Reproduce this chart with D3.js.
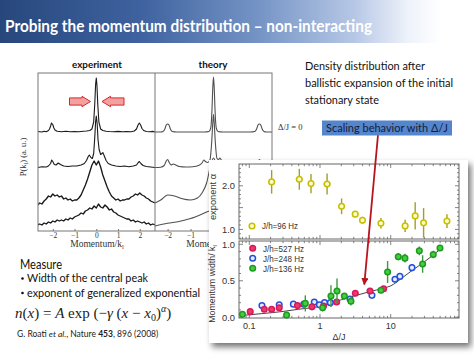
<!DOCTYPE html>
<html><head><meta charset="utf-8">
<script src="https://cdn.jsdelivr.net/npm/d3@7"></script>
<style>body{margin:0;background:#fff;} svg{display:block;}</style>
</head><body>
<svg id="c" width="474" height="355"></svg>
<script>
// ---------------- DATA ----------------
const titleText = "Probing the momentum distribution \u2013 non-interacting";
const panelLabels = ["experiment", "theory"];
const momTicks = [-2, -1, 0, 1, 2];
const descLines = ["Density distribution after", "ballistic expansion of the initial", "stationary state"];
const boxText = "Scaling behavior with \u0394/J";
const bulletLines = ["Width of the central peak", "exponent of generalized exponential"];

// curve profiles [k, P] (a.u.), and vertical offsets (a.u.) of each stacked curve
const curveOffsets = [99, 63.5, 26, 6];
const thOffsets = [99, 63.5, 28, 5];
const exp1 = [[-2.68,0.5],[-2.5,0],[-2.4,0.8],[-2.3,0.3],[-2.2,1.5],[-2.15,3],[-2.1,6],[-2.06,9],[-2.0,7.5],[-1.95,4],[-1.9,2],[-1.8,0.8],[-1.6,0.3],[-1.4,0.7],[-1.2,0.2],[-1.0,0.5],[-0.8,0.3],[-0.6,0.8],[-0.45,1],[-0.3,1.5],[-0.2,3],[-0.12,10],[-0.07,28],[-0.03,48],[0,54],[0.03,47],[0.07,27],[0.12,10],[0.2,3],[0.3,1.5],[0.45,0.8],[0.6,0.5],[0.8,0.2],[1.0,0.6],[1.2,0.2],[1.4,0.5],[1.6,0.3],[1.75,1],[1.85,3],[1.92,7],[1.98,9],[2.04,7],[2.1,3.5],[2.18,1.5],[2.3,0.5],[2.45,0.2],[2.6,0.6],[2.7,0]];
const exp2 = [[-2.68,0],[-2.5,0.8],[-2.3,0.5],[-2.2,1.5],[-2.1,4],[-2.05,7.5],[-2.0,6],[-1.93,3],[-1.85,2.5],[-1.75,4.5],[-1.65,3],[-1.5,1.5],[-1.3,1],[-1.1,1.5],[-0.9,1.5],[-0.7,2.5],[-0.55,4],[-0.45,7],[-0.37,11],[-0.32,12.5],[-0.25,10],[-0.18,9],[-0.12,14],[-0.07,30],[-0.03,46],[0,51.5],[0.04,44],[0.08,28],[0.13,18],[0.2,13],[0.26,14],[0.3,15],[0.36,12],[0.45,7],[0.55,4],[0.7,2.5],[0.9,1.5],[1.1,1],[1.3,1.5],[1.5,0.8],[1.7,1.5],[1.85,2.5],[1.93,5],[1.98,6],[2.05,4],[2.15,2],[2.3,1],[2.5,0.5],[2.7,0]];
const exp3 = [[-2.7,0],[-2.6,2],[-2.5,1],[-2.4,4],[-2.3,6],[-2.2,9],[-2.1,8],[-2.0,11],[-1.9,9],[-1.8,10],[-1.7,8],[-1.6,9],[-1.5,6],[-1.4,7],[-1.3,5],[-1.2,6],[-1.1,4],[-1.0,5],[-0.9,5],[-0.8,7],[-0.7,10],[-0.6,15],[-0.5,20],[-0.4,26],[-0.3,33],[-0.2,40],[-0.1,44],[0.0,40],[0.1,44],[0.2,38],[0.3,30],[0.4,24],[0.5,18],[0.6,13],[0.7,9],[0.8,7],[0.9,5],[1.0,6],[1.1,4],[1.2,5],[1.3,5],[1.4,6],[1.5,6],[1.6,8],[1.7,9],[1.8,11],[1.9,10],[2.0,12],[2.1,10],[2.2,9],[2.3,7],[2.4,6],[2.5,4],[2.6,3],[2.7,2]];
const exp4 = [[-2.7,0],[-2.6,1],[-2.5,0],[-2.4,2],[-2.3,1],[-2.2,3],[-2.1,2],[-2.0,4],[-1.9,3],[-1.8,5],[-1.7,4],[-1.6,5],[-1.5,4],[-1.4,6],[-1.3,5],[-1.2,7],[-1.1,6],[-1.0,8],[-0.9,9],[-0.8,10],[-0.7,12],[-0.6,11],[-0.5,14],[-0.4,15],[-0.3,17],[-0.2,16],[-0.1,19],[0.0,17],[0.1,21],[0.2,18],[0.3,17],[0.4,20],[0.5,18],[0.6,15],[0.7,16],[0.8,13],[0.9,12],[1.0,10],[1.1,9],[1.2,8],[1.3,7],[1.4,6],[1.5,6],[1.6,4],[1.7,5],[1.8,3],[1.9,4],[2.0,3],[2.1,2],[2.2,3],[2.3,1],[2.4,2],[2.5,0],[2.6,1],[2.7,0]];
const th1 = [[-2.55,0],[-2.3,0],[-2.2,0.5],[-2.12,3],[-2.06,7],[-2.0,8],[-1.94,7],[-1.88,3],[-1.8,0.5],[-1.6,0],[-0.4,0],[-0.2,0.5],[-0.12,4],[-0.07,20],[-0.03,45],[0,55],[0.03,45],[0.07,20],[0.12,4],[0.2,0.5],[0.4,0],[1.6,0],[1.8,0.5],[1.88,3],[1.94,7],[2.0,8],[2.06,7],[2.12,3],[2.2,0.5],[2.3,0],[2.55,0]];
const th2 = [[-2.55,0],[-2.3,0.3],[-2.15,2],[-2.07,6],[-2.0,8],[-1.93,5],[-1.85,2.5],[-1.75,3.5],[-1.65,2.5],[-1.5,1],[-1.2,0.5],[-0.9,0.8],[-0.65,2],[-0.5,4.5],[-0.42,7.5],[-0.35,6],[-0.25,5],[-0.15,8],[-0.08,25],[-0.03,45],[0,53],[0.03,45],[0.08,25],[0.15,9],[0.22,8],[0.28,9.5],[0.35,7],[0.45,3.5],[0.6,2],[0.9,0.8],[1.2,0.5],[1.5,1],[1.65,2.5],[1.75,3.5],[1.85,2.5],[1.93,5],[2.0,8],[2.07,6],[2.15,2],[2.3,0.3],[2.55,0]];
const th3 = [[-2.55,0],[-2.3,3],[-2.0,8],[-1.7,7],[-1.4,4.5],[-1.0,3],[-0.7,5],[-0.5,10],[-0.3,20],[-0.15,35],[0,45],[0.15,35],[0.3,20],[0.5,10],[0.7,5],[1.0,3],[1.4,4.5],[1.7,7],[2.0,8],[2.3,3],[2.55,0]];
const th4 = [[-2.55,0],[-2.0,2.7],[-1.5,4.5],[-1.0,7.5],[-0.5,12],[-0.3,14],[0,16],[0.3,14],[0.5,12],[1.0,7.5],[1.5,4.5],[2.0,2.7],[2.55,0]];

// inset: exponent alpha vs Delta/J (J/h = 96 Hz)
const alphaX   = [0.207,0.51,0.746,1.26,2.02,3.15,3.99,7.27,16.0,22.2,29.2,62.5];
const alphaY   = [2.09,2.15,2.05,2.04,1.53,1.35,1.21,1.14,1.08,1.31,1.15,1.19];
const alphaErr = [0.27,0.24,0.22,0.24,0.18,0.07,0.08,0.12,0.14,0.31,0.34,0.16];
const alphaXErr= [1.12,1.12,1.1,1.12,1.1,1.08,1.08,1.1,1.08,1.08,1.08,1.08];
// inset: momentum width vs Delta/J
const w527X = [0.103,0.163,0.207,0.265,0.48,0.77,1.12,1.72,3.16,5.1,7.94];
const w527Y = [0.077,0.11,0.11,0.13,0.16,0.145,0.155,0.21,0.33,0.36,0.39];
const w527E = [0.02,0.02,0.02,0.02,0.02,0.05,0.03,0.03,0.02,0.03,0.03];
const w248X = [0.151,0.265,0.42,0.59,0.83,0.98,1.16,1.4,2.66,5.43,11.5,13.5,20];
const w248Y = [0.16,0.17,0.18,0.18,0.21,0.17,0.2,0.2,0.25,0.30,0.52,0.56,0.68];
const w248E = [0.02,0.02,0.02,0.03,0.03,0.02,0.03,0.03,0.03,0.03,0.04,0.04,0.05];
const w136X = [0.080,0.337,0.62,1.09,1.43,1.74,2.21,2.74,7.28,9.04,12.8,15.9,25.4,28.3,40,49.8];
const w136Y = [0.04,0.03,0.19,0.13,0.29,0.36,0.29,0.22,0.37,0.62,0.83,0.81,0.91,0.73,0.86,0.95];
const w136E = [0.02,0.03,0.11,0.05,0.15,0.17,0.03,0.06,0.04,0.15,0.05,0.06,0.06,0.12,0.05,0.04];
const fitX = [0.08,0.15,0.3,0.5,1,2,3,5,8,10,15,20,30,50];
const fitY = [0.025,0.05,0.08,0.11,0.15,0.24,0.29,0.35,0.40,0.43,0.55,0.64,0.76,0.93];
const legendUpper = ["J/h=96 Hz"];
const legendLower = ["J/h=527 Hz", "J/h=248 Hz", "J/h=136 Hz"];
const alphaTickLabels = [1.0, 2.0];
const widthTickLabels = [0.0, 0.5, 1.0];
const deltaTickLabels = [0.1, 1, 10];

// ---------------- DRAW ----------------
const svg = d3.select("#c");
const defs = svg.append("defs");
const SANS = "Lato, 'Open Sans', sans-serif";
const ARIAL = "'Liberation Sans', Arial, sans-serif";
const SERIF = "'Liberation Serif', 'DejaVu Serif', serif";

function txt(parent, x, y, s, size, opts = {}) {
  const t = parent.append("text").attr("x", x).attr("y", y).text(s)
    .attr("font-size", size).attr("font-family", opts.family || SANS)
    .attr("fill", opts.fill || "#111");
  if (opts.weight) t.attr("font-weight", opts.weight);
  if (opts.anchor) t.attr("text-anchor", opts.anchor);
  if (opts.len) t.attr("textLength", opts.len).attr("lengthAdjust", "spacingAndGlyphs");
  return t;
}

// title bar
const tg = defs.append("linearGradient").attr("id", "tg").attr("x1", 0).attr("x2", 1).attr("y1", 0).attr("y2", 0);
[[0, "#27477c"], [0.3, "#3f63a0"], [0.55, "#7695c6"], [0.75, "#b7c8e6"], [0.86, "#eef2fa"], [0.93, "#ffffff"]]
  .forEach(([o, c]) => tg.append("stop").attr("offset", o).attr("stop-color", c));
svg.append("rect").attr("x", 0).attr("y", 0).attr("width", 474).attr("height", 43).attr("fill", "url(#tg)");
txt(svg, 5, 32, titleText, 17, { fill: "#fff", weight: 700, len: 367 });

// left panels
const expX = d3.scaleLinear().domain([-2.68, 2.7]).range([38, 155]);
const thX = d3.scaleLinear().domain([-2.55, 2.55]).range([155, 272]);
const pY = d3.scaleLinear().domain([0, 158]).range([231, 73]);

defs.append("clipPath").attr("id", "cpE").append("rect").attr("x", 38).attr("y", 73).attr("width", 117).attr("height", 158);
defs.append("clipPath").attr("id", "cpT").append("rect").attr("x", 155).attr("y", 73).attr("width", 117).attr("height", 158);

const gE = svg.append("g").attr("clip-path", "url(#cpE)");
const gT = svg.append("g").attr("clip-path", "url(#cpT)");
[exp1, exp2, exp3, exp4].forEach((c, i) => {
  const ln = d3.line().x(d => expX(d[0])).y(d => pY(d[1] + curveOffsets[i]));
  gE.append("path").attr("d", ln(c)).attr("fill", "none").attr("stroke", "#1a1a1a")
    .attr("stroke-width", i >= 2 ? 1.35 : 1.1).attr("stroke-linejoin", "round");
});
[th1, th2, th3, th4].forEach((c, i) => {
  const ln = d3.line().curve(d3.curveMonotoneX).x(d => thX(d[0])).y(d => pY(d[1] + thOffsets[i]));
  gT.append("path").attr("d", ln(c)).attr("fill", "none").attr("stroke", "#505050").attr("stroke-width", 1.1);
});
svg.append("rect").attr("x", 38).attr("y", 73).attr("width", 234).attr("height", 158)
  .attr("fill", "none").attr("stroke", "#777").attr("stroke-width", 1);
svg.append("line").attr("x1", 155).attr("x2", 155).attr("y1", 73).attr("y2", 231).attr("stroke", "#777");

// bottom axes of left panels
[[expX, 97], [thX, 213]].forEach(([sc, cx]) => {
  const ax = svg.append("g").attr("transform", "translate(0,231)")
    .call(d3.axisBottom(sc).tickValues(momTicks).tickSize(-2).tickPadding(0).tickFormat(d3.format("d")));
  ax.select(".domain").remove();
  ax.selectAll("line").attr("stroke", "#777");
  ax.selectAll("text").attr("font-family", SERIF).attr("font-size", 7.5).attr("fill", "#333")
    .attr("y", 6.5).attr("dy", null);
  const t = svg.append("text").attr("x", cx).attr("y", 247).attr("text-anchor", "middle")
    .attr("font-family", SERIF).attr("font-size", 9.5).attr("fill", "#333");
  t.append("tspan").text("Momentum/k");
  t.append("tspan").text("l").attr("font-size", 6.5).attr("dy", 2);
});
panelLabels.forEach((l, i) => txt(svg, i === 0 ? 97 : 213, 68, l, 9.5, { weight: 700, anchor: "middle", len: i === 0 ? 50 : 29 }));

// y label P(k_l)
const py = svg.append("text").attr("transform", "translate(26,157) rotate(-90)").attr("text-anchor", "middle")
  .attr("font-family", SERIF).attr("font-size", 8.5).attr("fill", "#333");
py.append("tspan").text("P(k");
py.append("tspan").text("l").attr("font-size", 6).attr("dy", 2);
py.append("tspan").text(") (a. u.)").attr("dy", -2);

txt(svg, 278, 130, "\u0394/J = 0", 8.5, { family: SERIF, fill: "#333" });

// red block arrows
function blockArrow(x0, x1, yc) {
  const dir = Math.sign(x1 - x0), hl = 8.5 * dir, bh = 3.6, hh = 5.2;
  const pts = [[x0, yc - bh], [x1 - hl, yc - bh], [x1 - hl, yc - hh], [x1, yc], [x1 - hl, yc + hh], [x1 - hl, yc + bh], [x0, yc + bh]];
  svg.append("path").attr("d", d3.line()(pts) + "Z").attr("fill", "#f3a0a0").attr("stroke", "#d8262a").attr("stroke-width", 1);
}
blockArrow(69.5, 90.5, 101.5);
blockArrow(124, 102, 101.5);

// right description text
descLines.forEach((l, i) => txt(svg, 305, 70 + i * 16.8, l, 11.5, { len: [120, 148, 74][i] }));

// left bottom text
txt(svg, 20, 269, "Measure", 12.5, { len: 42 });
bulletLines.forEach((l, i) => {
  const y = 282 + i * 14.5;
  svg.append("circle").attr("cx", 22.5).attr("cy", y - 3.5).attr("r", 1.3).attr("fill", "#111");
  txt(svg, 27, y, l, 11.5, { len: [121, 173][i] });
});
// formula
const f = svg.append("text").attr("x", 15).attr("y", 318).attr("font-family", SERIF).attr("font-size", 15).attr("fill", "#222");
f.append("tspan").text("n").attr("font-style", "italic");
f.append("tspan").text("(");
f.append("tspan").text("x").attr("font-style", "italic");
f.append("tspan").text(") = ");
f.append("tspan").text("A").attr("font-style", "italic");
f.append("tspan").text(" exp (\u2212");
f.append("tspan").text("\u03b3").attr("font-style", "italic");
f.append("tspan").text(" (");
f.append("tspan").text("x").attr("font-style", "italic");
f.append("tspan").text(" \u2212 ");
f.append("tspan").text("x").attr("font-style", "italic");
f.append("tspan").text("0").attr("font-size", 10).attr("dy", 3);
f.append("tspan").text(")").attr("dy", -3);
f.append("tspan").text("\u03b1").attr("font-style", "italic").attr("font-size", 10).attr("dy", -6);
f.append("tspan").text(")").attr("dy", 6);
// citation
const cit = svg.append("text").attr("x", 17).attr("y", 337).attr("font-family", SANS).attr("font-size", 8.5).attr("fill", "#222");
cit.append("tspan").text("G. Roati ");
cit.append("tspan").text("et al.").attr("font-style", "italic");
cit.append("tspan").text(", Nature ");
cit.append("tspan").text("453").attr("font-weight", 700);
cit.append("tspan").text(", 896 (2008)");

// ---------------- INSET ----------------
const flt = defs.append("filter").attr("id", "sh").attr("x", "-10%").attr("y", "-10%").attr("width", "130%").attr("height", "130%");
flt.append("feDropShadow").attr("dx", 3).attr("dy", 4).attr("stdDeviation", 3).attr("flood-color", "#000").attr("flood-opacity", 0.55);
svg.append("rect").attr("x", 209).attr("y", 160).attr("width", 259).attr("height", 183).attr("fill", "#fff").attr("filter", "url(#sh)");

const ix = d3.scaleLog().domain([0.0715, 92.5]).range([239, 459]);
const ayU = d3.scaleLinear().domain([0.78, 2.5]).range([239, 164]);
const ayL = d3.scaleLinear().domain([-0.01, 1.045]).range([318, 241]);
const gI = svg.append("g");
const AX = "#666";

function frame(yS, top, bot, yMinor, yMajor) {
  gI.append("rect").attr("x", 239).attr("y", top).attr("width", 220).attr("height", bot - top)
    .attr("fill", "none").attr("stroke", AX).attr("stroke-width", 1);
  ix.ticks().forEach(v => {
    const maj = Math.abs(Math.log10(v) - Math.round(Math.log10(v))) < 1e-6;
    const L = maj ? 4 : 2.2;
    gI.append("line").attr("x1", ix(v)).attr("x2", ix(v)).attr("y1", bot).attr("y2", bot - L).attr("stroke", AX).attr("stroke-width", 0.8);
    gI.append("line").attr("x1", ix(v)).attr("x2", ix(v)).attr("y1", top).attr("y2", top + L).attr("stroke", AX).attr("stroke-width", 0.8);
  });
  yMinor.forEach(v => {
    const maj = yMajor.some(m => Math.abs(m - v) < 1e-6);
    const L = maj ? 4 : 2;
    gI.append("line").attr("x1", 239).attr("x2", 239 + L).attr("y1", yS(v)).attr("y2", yS(v)).attr("stroke", AX).attr("stroke-width", 0.8);
    gI.append("line").attr("x1", 459).attr("x2", 459 - L).attr("y1", yS(v)).attr("y2", yS(v)).attr("stroke", AX).attr("stroke-width", 0.8);
  });
}
frame(ayU, 164, 239, d3.range(0.8, 2.45, 0.1), [1.0, 1.5, 2.0]);
frame(ayL, 241, 318, d3.range(0, 1.041, 0.1), [0, 0.5, 1.0]);

alphaTickLabels.forEach(v => txt(gI, 235, ayU(v) + 3.3, v.toFixed(1), 9.3, { family: ARIAL, anchor: "end", fill: "#333" }));
widthTickLabels.forEach(v => txt(gI, 235, ayL(v) + 3.5, v.toFixed(1), 9.3, { family: ARIAL, anchor: "end", fill: "#333" }));
deltaTickLabels.forEach(v => txt(gI, ix(v), 329, String(v), 9, { family: ARIAL, anchor: "middle", fill: "#333" }));
txt(gI, 339, 339.5, "\u0394/J", 9, { family: ARIAL, anchor: "middle", fill: "#333" });
txt(gI, 0, 0, "exponent \u03b1", 9.3, { family: ARIAL, anchor: "middle", fill: "#333" })
  .attr("transform", "translate(216,197) rotate(-90)");
const mw = gI.append("text").attr("transform", "translate(215,284) rotate(-90)").attr("text-anchor", "middle")
  .attr("font-family", ARIAL).attr("font-size", 8.8).attr("fill", "#333");
mw.append("tspan").text("Momentum width/ k");
mw.append("tspan").text("l").attr("font-size", 6).attr("dy", 1.5);

// fit line
gI.append("path").attr("d", d3.line().curve(d3.curveMonotoneX).x((d, i) => ix(fitX[i])).y(d => ayL(d))(fitY))
  .attr("fill", "none").attr("stroke", "#444").attr("stroke-width", 1);

function series(xs, ys, es, xe, yS, fill, stroke, ecol, r) {
  const g = gI.append("g");
  const pts = xs.map((x, i) => ({ x, y: ys[i], e: es[i], xe: xe ? xe[i] : 1.09 }));
  g.selectAll(".ev").data(pts).join("line").attr("x1", d => ix(d.x)).attr("x2", d => ix(d.x))
    .attr("y1", d => yS(d.y - d.e)).attr("y2", d => yS(d.y + d.e)).attr("stroke", ecol).attr("stroke-width", 1.4);
  g.selectAll(".eh").data(pts).join("line").attr("x1", d => ix(d.x / d.xe)).attr("x2", d => ix(d.x * d.xe))
    .attr("y1", d => yS(d.y)).attr("y2", d => yS(d.y)).attr("stroke", ecol).attr("stroke-width", 1.4);
  g.selectAll("circle").data(pts).join("circle").attr("cx", d => ix(d.x)).attr("cy", d => yS(d.y))
    .attr("r", r).attr("fill", fill).attr("stroke", stroke).attr("stroke-width", 1.5);
}
const C96 = ["#fdfbc8", "#c6bf00", "#a3a021"];
const C527 = ["#ec3a6c", "#d81858", "#b03a7a"];
const C248 = ["#e6eeff", "#2250d8", "#3a5fcf"];
const C136 = ["#3fcf3f", "#1f9a1f", "#3c9a3c"];
series(alphaX, alphaY, alphaErr, alphaXErr, ayU, ...C96, 2.8);
series(w248X, w248Y, w248E, null, ayL, ...C248, 2.8);
series(w527X, w527Y, w527E, null, ayL, ...C527, 2.8);
series(w136X, w136Y, w136E, null, ayL, ...C136, 2.8);

// legends
[[C96, legendUpper[0], 226]].forEach(([c, l, y]) => {
  gI.append("circle").attr("cx", 252).attr("cy", y).attr("r", 2.8).attr("fill", c[0]).attr("stroke", c[1]).attr("stroke-width", 1.5);
  txt(gI, 262, y + 3.2, l, 8.8, { family: ARIAL, fill: "#333", len: 36 });
});
[C527, C248, C136].forEach((c, i) => {
  const y = 248.3 + i * 10;
  gI.append("circle").attr("cx", 252.7).attr("cy", y).attr("r", 2.8).attr("fill", c[0]).attr("stroke", c[1]).attr("stroke-width", 1.5);
  txt(gI, 263, y + 3.2, legendLower[i], 8.8, { family: ARIAL, fill: "#333", len: 41 });
});

// red pointer arrow
defs.append("marker").attr("id", "ah").attr("viewBox", "0 0 10 10").attr("refX", 9).attr("refY", 5)
  .attr("markerWidth", 4).attr("markerHeight", 4).attr("orient", "auto")
  .append("path").attr("d", "M0,0L10,5L0,10Z").attr("fill", "#b8141e");
svg.append("line").attr("x1", 378).attr("y1", 135).attr("x2", 364.3).attr("y2", 284.5)
  .attr("stroke", "#b8141e").attr("stroke-width", 1.8).attr("marker-end", "url(#ah)");

// scaling box
svg.append("rect").attr("x", 322).attr("y", 120.5).attr("width", 130).attr("height", 15).attr("fill", "#5585cc");
txt(svg, 387, 131.5, boxText, 10.5, { anchor: "middle", fill: "#14203a", len: 122 });
</script>
</body></html>
